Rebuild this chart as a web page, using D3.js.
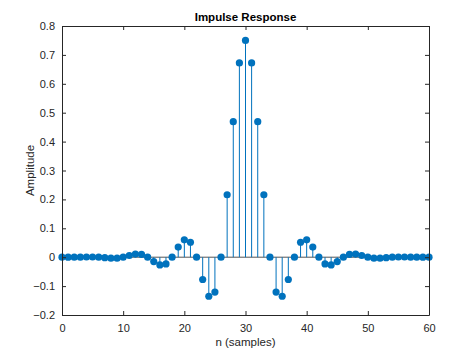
<!DOCTYPE html>
<html><head><meta charset="utf-8">
<script src="https://cdn.jsdelivr.net/npm/d3@7"></script>
<style>body{margin:0;background:#fff}svg{display:block}text{font-family:"Liberation Sans",Arial,sans-serif}</style>
</head><body>
<script>
const n = d3.range(0, 61);
const amplitude = [
 0, 0.00001, 0, 0.00023, 0.00062, 0.00073, 0, -0.00167, -0.00335, -0.00326,
 0, 0.0058, 0.01065, 0.00965, 0, -0.01531, -0.02688, -0.02342, 0, 0.03498,
 0.06016, 0.05171, 0, -0.07716, -0.13516, -0.1206, 0, 0.21613, 0.46894, 0.6722,
 0.75,
 0.6722, 0.46894, 0.21613, 0, -0.1206, -0.13516, -0.07716, 0, 0.05171, 0.06016,
 0.03498, 0, -0.02342, -0.02688, -0.01531, 0, 0.00965, 0.01065, 0.0058, 0,
 -0.00326, -0.00335, -0.00167, 0, 0.00073, 0.00062, 0.00023, 0, 0.00001, 0
];
const xTicks = [0, 10, 20, 30, 40, 50, 60];
const yTicks = [-0.2, -0.1, 0, 0.1, 0.2, 0.3, 0.4, 0.5, 0.6, 0.7, 0.8];

const W = 474, H = 355;
const L = 62, R = 429, T = 26, B = 315;
const svg = d3.select("body").append("svg").attr("width", W).attr("height", H);
const x = d3.scaleLinear().domain([0, 60]).range([L, R]);
const y = d3.scaleLinear().domain([-0.2, 0.8]).range([B, T]);
const axCol = "#262626", blue = "#0072BD";

// baseline
svg.append("line").attr("x1", x(0)).attr("x2", x(60)).attr("y1", y(0)).attr("y2", y(0))
  .attr("stroke", "#555").attr("stroke-width", 1);
// stems
svg.append("g").selectAll("line").data(n).join("line")
  .attr("x1", d => x(d)).attr("x2", d => x(d))
  .attr("y1", y(0)).attr("y2", d => y(amplitude[d]))
  .attr("stroke", blue).attr("stroke-width", 1);
// markers
svg.append("g").selectAll("circle").data(n).join("circle")
  .attr("cx", d => x(d)).attr("cy", d => y(amplitude[d])).attr("r", 3.6)
  .attr("fill", blue);

// axes
const fmt = d => (Math.abs(d) < 1e-9 ? "0" : d3.format("")(+d.toFixed(1)));
const styleAx = g => {
  g.select(".domain").attr("stroke", axCol);
  g.selectAll(".tick line").attr("stroke", axCol);
  g.selectAll(".tick text").attr("fill", axCol).attr("font-size", 11);
};
svg.append("g").attr("transform", `translate(0,${B})`)
  .call(d3.axisBottom(x).tickValues(xTicks).tickSize(-4).tickPadding(9).tickSizeOuter(0)).call(styleAx);
svg.append("g").attr("transform", `translate(0,${T})`)
  .call(d3.axisTop(x).tickValues(xTicks).tickSize(-4).tickFormat("").tickSizeOuter(0)).call(styleAx);
svg.append("g").attr("transform", `translate(${L},0)`)
  .call(d3.axisLeft(y).tickValues(yTicks).tickSize(-4).tickPadding(7).tickFormat(fmt).tickSizeOuter(0)).call(styleAx);
svg.append("g").attr("transform", `translate(${R},0)`)
  .call(d3.axisRight(y).tickValues(yTicks).tickSize(-4).tickFormat("").tickSizeOuter(0)).call(styleAx);

svg.append("text").attr("x", (L + R) / 2).attr("y", 21).attr("text-anchor", "middle")
  .attr("font-size", 11.5).attr("font-weight", "bold").attr("fill", "#000").text("Impulse Response");
svg.append("text").attr("x", (L + R) / 2).attr("y", 346).attr("text-anchor", "middle")
  .attr("font-size", 11.5).attr("fill", axCol).text("n (samples)");
svg.append("text").attr("transform", `translate(34,${(T + B) / 2}) rotate(-90)`).attr("text-anchor", "middle")
  .attr("font-size", 11.5).attr("fill", axCol).text("Amplitude");
</script>
</body></html>
